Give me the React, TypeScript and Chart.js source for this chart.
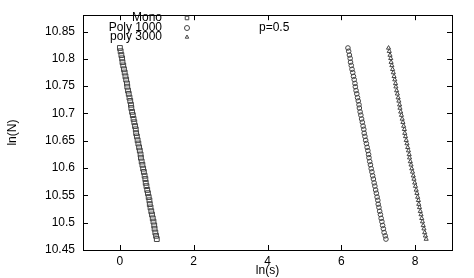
import React, { useEffect, useRef } from 'react';
import { Chart, registerables } from 'chart.js';
Chart.register(...registerables);

const FONT = "'Liberation Sans', Arial, Helvetica, sans-serif";

const lnN = [
  10.820, 10.814, 10.807, 10.801, 10.794, 10.788, 10.781, 10.775, 10.768, 10.762,
  10.755, 10.749, 10.742, 10.736, 10.729, 10.723, 10.716, 10.710, 10.703, 10.697,
  10.690, 10.684, 10.677, 10.671, 10.664, 10.658, 10.651, 10.645, 10.638, 10.632,
  10.625, 10.619, 10.612, 10.606, 10.599, 10.593, 10.586, 10.580, 10.573, 10.567,
  10.560, 10.554, 10.547, 10.541, 10.534, 10.528, 10.521, 10.515, 10.508, 10.502,
  10.495, 10.489, 10.482, 10.476, 10.470,
];

const monoS = [
  0.00, 0.02, 0.04, 0.06, 0.07, 0.09, 0.11, 0.13, 0.15, 0.17,
  0.19, 0.20, 0.22, 0.24, 0.26, 0.28, 0.30, 0.31, 0.33, 0.35,
  0.37, 0.39, 0.41, 0.43, 0.44, 0.46, 0.48, 0.50, 0.52, 0.54,
  0.56, 0.57, 0.59, 0.61, 0.63, 0.65, 0.67, 0.69, 0.70, 0.72,
  0.74, 0.76, 0.78, 0.80, 0.81, 0.83, 0.85, 0.87, 0.89, 0.91,
  0.93, 0.94, 0.96, 0.98, 1.00,
];

const poly1000S = [
  6.18, 6.20, 6.22, 6.24, 6.25, 6.27, 6.29, 6.31, 6.33, 6.35,
  6.37, 6.38, 6.40, 6.42, 6.44, 6.46, 6.48, 6.49, 6.51, 6.53,
  6.55, 6.57, 6.59, 6.61, 6.62, 6.64, 6.66, 6.68, 6.70, 6.72,
  6.74, 6.75, 6.77, 6.79, 6.81, 6.83, 6.85, 6.87, 6.89, 6.91,
  6.93, 6.95, 6.97, 6.99, 7.00, 7.02, 7.04, 7.06, 7.08, 7.10,
  7.12, 7.14, 7.16, 7.19, 7.21,
];

const poly3000S = [
  7.28, 7.30, 7.32, 7.34, 7.35, 7.37, 7.39, 7.41, 7.43, 7.45,
  7.47, 7.48, 7.50, 7.52, 7.54, 7.56, 7.58, 7.59, 7.61, 7.63,
  7.65, 7.67, 7.69, 7.71, 7.72, 7.74, 7.76, 7.78, 7.80, 7.82,
  7.84, 7.85, 7.87, 7.89, 7.91, 7.93, 7.95, 7.97, 7.99, 8.01,
  8.03, 8.05, 8.07, 8.09, 8.10, 8.12, 8.14, 8.16, 8.18, 8.20,
  8.22, 8.24, 8.26, 8.28, 8.30,
];

const seriesLabels = ['Mono', 'Poly 1000', 'poly 3000'];
const seriesStyles = ['rect', 'circle', 'triangle'];
const xTicks = [0, 2, 4, 6, 8];
const yTicks = [10.45, 10.5, 10.55, 10.6, 10.65, 10.7, 10.75, 10.8, 10.85];
const annotation = 'p=0.5';

const MARK = '#444';
const FS = 12;

function toPoints(xs: number[], ys: number[]) {
  return xs.map((x, i) => ({ x, y: ys[i] }));
}

function drawMarker(ctx: CanvasRenderingContext2D, style: string, x: number, y: number, r: number) {
  ctx.beginPath();
  if (style === 'rect') {
    const s = r * Math.SQRT1_2;
    ctx.rect(x - s, y - s, 2 * s, 2 * s);
  } else if (style === 'circle') {
    ctx.arc(x, y, r, 0, Math.PI * 2);
  } else {
    const h = r * 1.5;
    ctx.moveTo(x, y - r);
    ctx.lineTo(x + h * 0.58, y + r * 0.6);
    ctx.lineTo(x - h * 0.58, y + r * 0.6);
    ctx.closePath();
  }
  ctx.stroke();
}

export default function App() {
  const ref = useRef<HTMLCanvasElement>(null);
  useEffect(() => {
    document.body.style.margin = '0';
    const framePlugin = {
      id: 'frame',
      afterDraw(chart: any) {
        const ctx: CanvasRenderingContext2D = chart.ctx;
        const { left, right, top, bottom } = chart.chartArea;
        const xs = chart.scales.x;
        const ys = chart.scales.y;
        ctx.save();
        ctx.strokeStyle = '#000';
        ctx.lineWidth = 1;
        ctx.strokeRect(Math.round(left) + 0.5, Math.round(top) + 0.5, Math.round(right - left), Math.round(bottom - top));
        ctx.beginPath();
        const tl = 5;
        xTicks.forEach((v) => {
          const px = Math.round(xs.getPixelForValue(v)) + 0.5;
          ctx.moveTo(px, bottom);
          ctx.lineTo(px, bottom - tl);
          ctx.moveTo(px, top);
          ctx.lineTo(px, top + tl);
        });
        yTicks.forEach((v) => {
          const py = Math.round(ys.getPixelForValue(v)) + 0.5;
          ctx.moveTo(left, py);
          ctx.lineTo(left + tl, py);
          ctx.moveTo(right, py);
          ctx.lineTo(right - tl, py);
        });
        ctx.stroke();

        // key
        ctx.font = `${FS}px ${FONT}`;
        ctx.fillStyle = '#000';
        ctx.textAlign = 'right';
        ctx.textBaseline = 'middle';
        const keyY = [18, 28, 37];
        seriesLabels.forEach((lab, i) => {
          ctx.fillText(lab, 162, keyY[i]);
          ctx.strokeStyle = MARK;
          drawMarker(ctx, seriesStyles[i], 187, keyY[i], i === 2 ? 2 : 2.5);
        });
        ctx.textAlign = 'left';
        ctx.fillText(annotation, 259, 28);
        ctx.restore();
      },
    };

    const chart = new Chart(ref.current as HTMLCanvasElement, {
      type: 'scatter',
      data: {
        datasets: [
          {
            label: seriesLabels[0],
            data: toPoints(monoS, lnN),
            pointStyle: 'rect',
            pointRadius: 3.4,
            borderColor: MARK,
            backgroundColor: 'rgba(0,0,0,0)',
            borderWidth: 1,
          },
          {
            label: seriesLabels[1],
            data: toPoints(poly1000S, lnN),
            pointStyle: 'circle',
            pointRadius: 2.3,
            borderColor: MARK,
            backgroundColor: 'rgba(0,0,0,0)',
            borderWidth: 1,
          },
          {
            label: seriesLabels[2],
            data: toPoints(poly3000S, lnN),
            pointStyle: 'triangle',
            pointRadius: 2.4,
            borderColor: MARK,
            backgroundColor: 'rgba(0,0,0,0)',
            borderWidth: 1,
          },
        ],
      },
      options: {
        animation: false,
        responsive: true,
        maintainAspectRatio: false,
        layout: { padding: { top: 10, right: 22, left: 0, bottom: 0 } },
        plugins: { legend: { display: false }, tooltip: { enabled: false } },
        scales: {
          x: {
            type: 'linear',
            min: -1,
            max: 9,
            afterBuildTicks: (s: any) => {
              s.ticks = xTicks.map((v) => ({ value: v }));
            },
            afterFit: (s: any) => {
              s.height = 28;
            },
            grid: { display: false, drawTicks: false },
            border: { display: false },
            ticks: {
              color: '#000',
              font: { family: FONT, size: FS },
              padding: 4,
              maxRotation: 0,
              callback: (v: any) => String(v),
            },
            title: {
              display: true,
              text: 'ln(s)',
              color: '#000',
              font: { family: FONT, size: FS },
              padding: 0,
            },
          },
          y: {
            type: 'linear',
            min: 10.45,
            max: 10.88,
            afterBuildTicks: (s: any) => {
              s.ticks = yTicks.map((v) => ({ value: v }));
            },
            afterFit: (s: any) => {
              s.width = 83;
            },
            grid: { display: false, drawTicks: false },
            border: { display: false },
            ticks: {
              color: '#000',
              font: { family: FONT, size: FS },
              padding: 8,
              callback: (v: any) => String(parseFloat(Number(v).toFixed(2))),
            },
            title: {
              display: true,
              text: 'ln(N)',
              color: '#000',
              font: { family: FONT, size: FS },
              padding: { top: 5, bottom: 0 },
            },
          },
        },
      },
      plugins: [framePlugin],
    });
    return () => chart.destroy();
  }, []);
  return (
    <div style={{ position: 'relative', width: 474, height: 278 }}>
      <canvas ref={ref} />
    </div>
  );
}
